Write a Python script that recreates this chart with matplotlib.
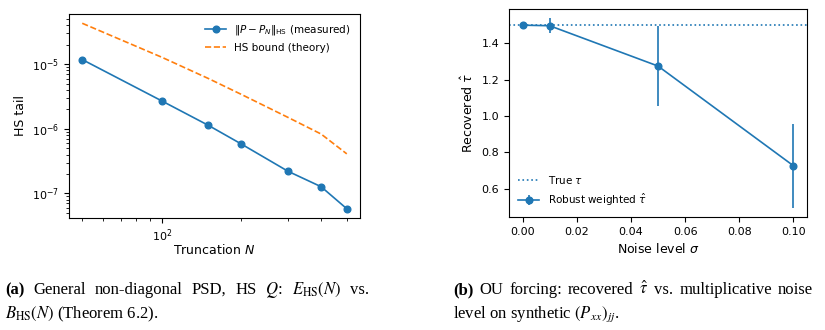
import numpy as np
import matplotlib
matplotlib.use("Agg")
import matplotlib.pyplot as plt
from matplotlib.ticker import NullFormatter

# (a) HS tail vs truncation
N = [50, 100, 150, 200, 300, 400, 500]
hs_measured = [1.18e-5, 2.7e-6, 1.13e-6, 5.8e-7, 2.2e-7, 1.27e-7, 5.8e-8]
hs_bound = [4.3e-5, 1.28e-5, 6.0e-6, 3.4e-6, 1.5e-6, 8.3e-7, 4.1e-7]

# (b) recovered tau vs noise level
sigma = [0.0, 0.01, 0.05, 0.10]
tau_hat = [1.5, 1.497, 1.275, 0.726]
tau_err = [0.0, 0.04, 0.22, 0.23]
true_tau = 1.5

TICK = 8
LABEL = 9
LEG = 7.5

fig = plt.figure(figsize=(8.25, 3.3), dpi=100)
W, H = 825, 330


def px_axes(x0, y0, x1, y1):
    return fig.add_axes([x0 / W, 1 - y1 / H, (x1 - x0) / W, (y1 - y0) / H])


ax1 = px_axes(69, 14, 360, 218)
ax1.plot(N, hs_measured, 'o-', color='C0', ms=4.8, lw=1.2,
         label=r'$\|P-P_N\|_{\mathrm{HS}}$ (measured)')
ax1.plot(N, hs_bound, '--', color='C1', lw=1.2, label='HS bound (theory)')
ax1.set_xscale('log')
ax1.set_yscale('log')
ax1.xaxis.set_minor_formatter(NullFormatter())
ax1.set_xlabel(r'Truncation $N$', fontsize=LABEL, labelpad=-1)
ax1.set_ylabel('HS tail', fontsize=LABEL)
ax1.tick_params(labelsize=TICK)
ax1.legend(fontsize=LEG, frameon=False, loc='upper right')

ax2 = px_axes(509, 9, 807, 217)
ax2.axhline(true_tau, ls=':', color='C0', lw=1.2, label=r'True $\tau$')
ax2.errorbar(sigma, tau_hat, yerr=tau_err, fmt='o-', color='C0', ms=4.8,
             lw=1.2, label=r'Robust weighted $\hat{\tau}$')
ax2.set_xticks(np.arange(0, 0.101, 0.02))
ax2.set_yticks([0.6, 0.8, 1.0, 1.2, 1.4])
ax2.set_xlabel(r'Noise level $\sigma$', fontsize=LABEL)
ax2.set_ylabel(r'Recovered $\hat{\tau}$', fontsize=LABEL)
ax2.tick_params(labelsize=TICK)
ax2.legend(fontsize=LEG, frameon=False, loc='lower left')

# captions, justified like the paper
CAP = 12
cap_kw = dict(fontsize=CAP, family='Liberation Serif', math_fontfamily='stix',
              va='baseline')
renderer = fig.canvas.get_renderer()


def justified(words, x0, x1, y):
    texts = []
    for i, w in enumerate(words):
        t = fig.text(0, 1 - y / H, w, fontweight='bold' if i == 0 else 'normal',
                     **cap_kw)
        texts.append(t)
    widths = [t.get_window_extent(renderer).width for t in texts]
    gap = (x1 - x0 - sum(widths)) / (len(words) - 1)
    x = x0
    for t, wd in zip(texts, widths):
        t.set_x(x / W)
        x += wd + gap


justified(['(a)', 'General', 'non-diagonal', 'PSD,', 'HS', '$Q$:',
           r'$E_{\mathrm{HS}}(N)$', 'vs.'], 5, 369, 294)
fig.text(5 / W, 1 - 318 / H, r'$B_{\mathrm{HS}}(N)$ (Theorem 6.2).', **cap_kw)

justified(['(b)', 'OU', 'forcing:', 'recovered', r'$\hat{\tau}$', 'vs.',
           'multiplicative', 'noise'], 453, 813, 294)
fig.text(453 / W, 1 - 318 / H, r'level on synthetic $(P_{xx})_{jj}$.', **cap_kw)

fig.savefig('out.png', dpi=100)
